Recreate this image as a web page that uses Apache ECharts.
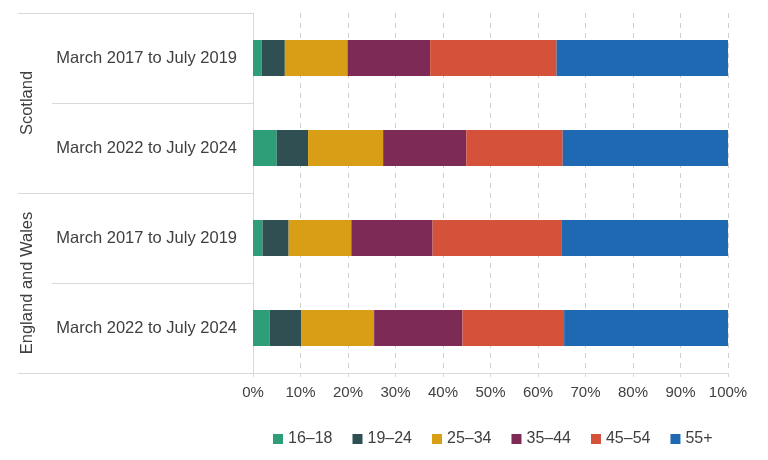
<!DOCTYPE html>
<html>
<head>
<meta charset="utf-8">
<script src="https://cdn.jsdelivr.net/npm/echarts@6/dist/echarts.min.js"></script>
<style>
  html, body { margin: 0; padding: 0; background: #fff; }
  #chart { width: 768px; height: 460px; }
</style>
</head>
<body>
<div id="chart"></div>
<script>
// rows, top to bottom
const periods = ['March 2017 to July 2019', 'March 2022 to July 2024', 'March 2017 to July 2019', 'March 2022 to July 2024'];
const regions = ['Scotland', 'England and Wales'];
const ageGroups = ['16–18', '19–24', '25–34', '35–44', '45–54', '55+'];

// share (%) per age group, one value per row
const age16to18 = [1.8, 5.0, 2.0, 3.5];
const age19to24 = [4.9, 6.6, 5.5, 6.7];
const age25to34 = [13.2, 15.8, 13.2, 15.3];
const age35to44 = [17.4, 17.5, 17.1, 18.6];
const age45to54 = [26.6, 20.3, 27.1, 21.4];
const age55plus = [36.1, 34.8, 35.1, 34.5];

const colors = ['#2e9e78', '#2f4f53', '#d89f16', '#7d2a57', '#d4513a', '#1f69b3'];
const font = 'Liberation Sans, Arial, sans-serif';
const textColor = '#404040';
const lineColor = '#d9d9d9';

const chart = echarts.init(document.getElementById('chart'));

const seriesData = [age16to18, age19to24, age25to34, age35to44, age45to54, age55plus];

chart.setOption({
  animation: false,
  color: colors,
  textStyle: { fontFamily: font, color: textColor },
  grid: { left: 253, right: 40, top: 13, bottom: 87 },
  legend: {
    left: 268,
    bottom: 8,
    icon: 'rect',
    itemWidth: 10,
    itemHeight: 10,
    itemGap: 20,
    textStyle: { fontSize: 16, color: textColor, fontFamily: font },
    data: ageGroups,
  },
  xAxis: {
    type: 'value',
    min: 0,
    max: 100,
    interval: 10,
    axisLine: { show: true, lineStyle: { color: lineColor } },
    axisTick: { show: true, length: 4, lineStyle: { color: lineColor } },
    axisLabel: { formatter: '{value}%', fontSize: 15, color: textColor, margin: 12 },
    splitLine: { show: true, lineStyle: { color: '#cfcfcf', type: [5, 5] } },
  },
  yAxis: [
    {
      type: 'category',
      inverse: true,
      data: periods,
      axisLine: { show: true, lineStyle: { color: lineColor } },
      axisTick: { show: true, interval: 0, length: 201, lineStyle: { color: lineColor } },
      axisLabel: { interval: 0, fontSize: 16.5, color: textColor, margin: 16 },
    },
    {
      type: 'category',
      inverse: true,
      position: 'left',
      data: regions,
      axisLine: { show: false },
      axisTick: { show: true, interval: 0, length: 235, lineStyle: { color: lineColor } },
      axisLabel: { interval: 0, hideOverlap: false, fontSize: 16.5, color: textColor, rotate: 90, margin: 217 },
    },
  ],
  series: ageGroups.map((name, i) => ({
    name,
    type: 'bar',
    stack: 'total',
    barWidth: '40%',
    yAxisIndex: 0,
    data: seriesData[i],
  })),
});
</script>
</body>
</html>
